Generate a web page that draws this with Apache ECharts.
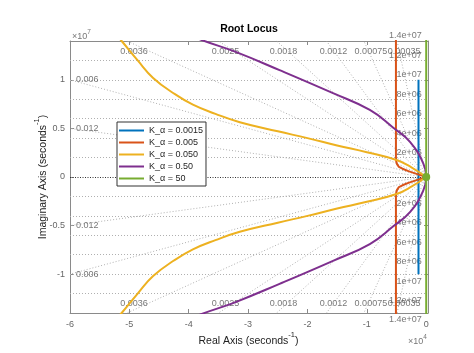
<!DOCTYPE html>
<html><head><meta charset="utf-8">
<script src="https://cdn.jsdelivr.net/npm/echarts@6/dist/echarts.min.js"></script>
<style>html,body{margin:0;padding:0;background:#fff}#c{width:474px;height:353px}</style>
</head><body><div id="c"></div>
<script>
// Units: real part in 1e4 s^-1, imaginary part in 1e7 s^-1
const xTicks = [-6, -5, -4, -3, -2, -1, 0];
const yTicks = [-1, -0.5, 0, 0.5, 1];
const seriesNames = ['K_α = 0.0015', 'K_α = 0.005', 'K_α = 0.050', 'K_α = 0.50', 'K_α = 50'];
const colors = ['#0072BD', '#D95319', '#EDB120', '#7E2F8E', '#77AC30'];

// upper branches (lower branches are their mirror images)
const blueUpper = [[-0.13, 1.0], [-0.13, 0]];
const orangeUpper = [[-0.51, 1.5], [-0.51, 0.2], [-0.505, 0.16], [-0.49, 0.13], [-0.46, 0.105], [-0.40, 0.085], [-0.30, 0.06], [-0.15, 0.03], [0, 0]];
const yellowUpper = [[-5.3, 1.52], [-5.13, 1.4], [-4.86, 1.2], [-4.6, 1.02], [-4.25, 0.86], [-3.93, 0.745], [-3.55, 0.65], [-3.14, 0.564], [-2.5, 0.47], [-2.0, 0.40], [-1.5, 0.325], [-1.0, 0.255], [-0.5, 0.175], [-0.25, 0.1], [0, 0]];
const purpleUpper = [[-4.0, 1.47], [-3.78, 1.41], [-3.22, 1.29], [-2.47, 1.10], [-1.57, 0.863], [-0.95, 0.69], [-0.56, 0.51], [-0.27, 0.36], [-0.05, 0.14], [0, 0]];
const greenLine = [[0, 1.5], [0, 0], [0, -1.5]];

// root-locus grid
const zetas = [0.00035, 0.00075, 0.0012, 0.0018, 0.0025, 0.0036, 0.006, 0.012];
const wns = [0.2, 0.4, 0.6, 0.8, 1.0, 1.2, 1.4];

const X_MIN = -6, X_MAX = 0.03, Y_MAX = 1.4;

function lowerOf(upper) { return upper.map(p => [p[0], -p[1]]); }
function mirror(upper) {
  const lower = upper.slice(0, -1).reverse().map(p => [p[0], -p[1]]);
  return upper.concat(lower);
}
function zetaEnd(z) {
  const s = 1e-3 * Math.sqrt(1 - z * z) / z;
  if (s * 6 <= Y_MAX + 1e-9) return { x: X_MIN, y: s * 6, side: 'left' };
  return { x: -Y_MAX / s, y: Y_MAX, side: 'top' };
}
function fmtW(w) {
  return Math.round(w * 1e7).toExponential().replace(/e([+-])(\d)$/, 'e$10$2');
}

const gridLines = [];
const gridLabels = [];
zetas.forEach(z => {
  const e = zetaEnd(z);
  gridLines.push({ coords: [[0, 0], [e.x, e.y]] });
  gridLines.push({ coords: [[0, 0], [e.x, -e.y]] });
  const t = String(z);
  if (e.side === 'top') {
    gridLabels.push({ value: [e.x, e.y], label: { formatter: t, align: 'center', offset: [7, 10.5] } });
    gridLabels.push({ value: [e.x, -e.y], label: { formatter: t, align: 'center', offset: [7, -9] } });
  } else {
    gridLabels.push({ value: [e.x, e.y], label: { formatter: t, align: 'left', offset: [6, 0] } });
    gridLabels.push({ value: [e.x, -e.y], label: { formatter: t, align: 'left', offset: [6, 0] } });
  }
});
wns.forEach(w => {
  if (w < Y_MAX) {
    gridLines.push({ coords: [[X_MIN, w], [0, w]] });
    gridLines.push({ coords: [[X_MIN, -w], [0, -w]] });
  }
  gridLabels.push({ value: [0, w], label: { formatter: fmtW(w), align: 'right', offset: [-4.5, -5] } });
  gridLabels.push({ value: [0, -w], label: { formatter: fmtW(w), align: 'right', offset: [-4.5, 7] } });
});

const FONT = '"Liberation Sans", Arial, Helvetica, sans-serif';
const chart = echarts.init(document.getElementById('c'), null, { renderer: 'canvas' });

function curve(i, data, smooth) {
  return {
    name: seriesNames[i], type: 'line', data, z: 4,
    symbol: 'none', showSymbol: false, smooth: smooth || false,
    lineStyle: { color: colors[i], width: 2 },
    itemStyle: { color: colors[i] },
    silent: true, clip: true
  };
}
const curveSeries = [
  curve(0, mirror(blueUpper)),
  curve(1, mirror(orangeUpper)),
  curve(2, yellowUpper, 0.45),
  curve(2, lowerOf(yellowUpper), 0.45),
  curve(3, mirror(purpleUpper), 0.45),
  Object.assign(curve(4, [greenLine[0], { value: greenLine[1], symbol: 'circle', symbolSize: 8 }, greenLine[2]]), { showSymbol: true, z: 5 })
];

const axisLineStyle = { color: '#8a8a8a', width: 1 };
const tickStyle = { show: true, inside: true, length: 4, lineStyle: { color: '#8a8a8a' } };

chart.setOption({
  animation: false,
  textStyle: { fontFamily: FONT },
  grid: { left: 70, right: 46, top: 41, bottom: 40, containLabel: false },
  xAxis: [
    { type: 'value', min: X_MIN, max: X_MAX, position: 'bottom',
      axisLine: { show: true, onZero: false, lineStyle: axisLineStyle },
      axisTick: Object.assign({ customValues: xTicks }, tickStyle),
      axisLabel: { customValues: xTicks, color: '#666', fontSize: 9, margin: 7, fontFamily: FONT },
      splitLine: { show: false } },
    { type: 'value', min: X_MIN, max: X_MAX, position: 'top',
      axisLine: { show: true, onZero: false, lineStyle: axisLineStyle },
      axisTick: Object.assign({ customValues: xTicks }, tickStyle),
      axisLabel: { show: false }, splitLine: { show: false } }
  ],
  yAxis: [
    { type: 'value', min: -Y_MAX, max: Y_MAX, position: 'left',
      axisLine: { show: true, onZero: false, lineStyle: axisLineStyle },
      axisTick: Object.assign({ customValues: yTicks }, tickStyle),
      axisLabel: { customValues: yTicks, color: '#666', fontSize: 9, margin: 5, fontFamily: FONT },
      splitLine: { show: false } },
    { type: 'value', min: -Y_MAX, max: Y_MAX, position: 'right',
      axisLine: { show: true, onZero: false, lineStyle: axisLineStyle },
      axisTick: Object.assign({ customValues: yTicks }, tickStyle),
      axisLabel: { show: false }, splitLine: { show: false } }
  ],
  legend: {
    data: seriesNames, orient: 'vertical', left: 117, top: 122,
    padding: [4, 3, 3, 2], itemGap: 3, itemWidth: 25, itemHeight: 2, icon: 'rect',
    backgroundColor: '#fff', borderColor: '#333', borderWidth: 1,
    textStyle: { fontSize: 9, color: '#262626', fontFamily: FONT, lineHeight: 9 },
    selectedMode: false
  },
  series: [
    { type: 'lines', coordinateSystem: 'cartesian2d', silent: true, z: 1,
      lineStyle: { color: '#b0b0b0', width: 1, type: [1, 2], opacity: 1 },
      data: gridLines },
    { type: 'lines', coordinateSystem: 'cartesian2d', silent: true, z: 2,
      lineStyle: { color: '#333', width: 1, type: [1, 1.5], opacity: 1 },
      data: [{ coords: [[X_MIN, 0], [0, 0]] }] },
    { type: 'scatter', silent: true, z: 2, clip: false, symbolSize: 1,
      itemStyle: { color: 'rgba(0,0,0,0)' },
      label: { show: true, position: 'inside', verticalAlign: 'middle', color: '#555', fontSize: 9, fontFamily: FONT },
      data: gridLabels }
  ].concat(curveSeries),
  graphic: [
    { type: 'text', x: 249, y: 29, style: { text: 'Root Locus', align: 'center', verticalAlign: 'middle', font: 'bold 10.5px ' + FONT, fill: '#000' } },
    { type: 'text', x: 72, y: 35, style: { text: '{n|×10}{s|7}', align: 'left', verticalAlign: 'middle', fill: '#777',
      rich: { n: { fontSize: 9, lineHeight: 13, verticalAlign: 'bottom', fontFamily: FONT, fill: '#777' }, s: { fontSize: 6.5, lineHeight: 8, verticalAlign: 'top', fontFamily: FONT, fill: '#777' } } } },
    { type: 'text', x: 408, y: 340, style: { text: '{n|×10}{s|4}', align: 'left', verticalAlign: 'middle', fill: '#777',
      rich: { n: { fontSize: 9, lineHeight: 13, verticalAlign: 'bottom', fontFamily: FONT, fill: '#777' }, s: { fontSize: 6.5, lineHeight: 8, verticalAlign: 'top', fontFamily: FONT, fill: '#777' } } } },
    { type: 'text', x: 248.5, y: 339, style: { text: '{n|Real Axis (seconds}{s|-1}{n|)}', align: 'center', verticalAlign: 'middle', fill: '#222',
      rich: { n: { fontSize: 10.5, lineHeight: 16, verticalAlign: 'bottom', fontFamily: FONT, fill: '#222' }, s: { fontSize: 7.5, lineHeight: 9, verticalAlign: 'top', fontFamily: FONT, fill: '#222' } } } },
    { type: 'text', x: 41, y: 177, rotation: Math.PI / 2, style: { text: '{n|Imaginary Axis (seconds}{s|-1}{n|)}', align: 'center', verticalAlign: 'middle', fill: '#222',
      rich: { n: { fontSize: 10.5, lineHeight: 16, verticalAlign: 'bottom', fontFamily: FONT, fill: '#222' }, s: { fontSize: 7.5, lineHeight: 9, verticalAlign: 'top', fontFamily: FONT, fill: '#222' } } } }
  ]
});
</script></body></html>
